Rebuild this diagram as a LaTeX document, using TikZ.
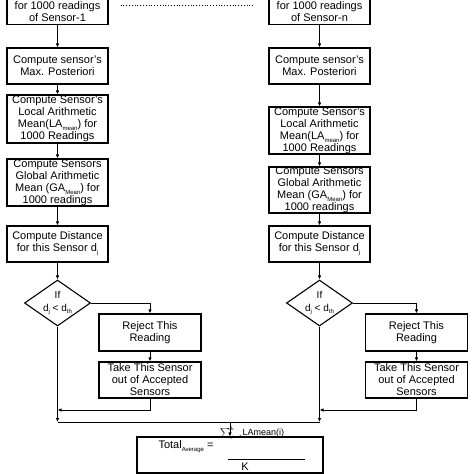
\documentclass[tikz,border=0pt]{standalone}
\usepackage{fontspec}
\setmainfont{Liberation Sans}
\usetikzlibrary{shapes.geometric,arrows.meta}
\newcommand{\lowsub}[1]{\raisebox{-0.5ex}{\fontsize{6}{6}\selectfont #1}}

\begin{document}
\begin{tikzpicture}
	[
	x=1pt, y=-1pt,
	align=center,
	font=\fontsize{11}{12}\selectfont,
	box/.style={draw, line width=1.1pt, inner sep=0pt, minimum width=101pt},
	test/.style={draw, shape=diamond, line width=1.1pt, inner sep=-3pt, minimum width=66pt, minimum height=46pt, font=\fontsize{10}{13}\selectfont},
	arr/.style={line width=0.8pt, -{Latex[length=4pt,width=3.5pt]}},
	link/.style={line width=0.8pt},
	]
	\useasboundingbox (0,0) rectangle (474,474);

		% left-hand column
		\node[box, minimum height=38pt] (s1l) at 	( 57.5,   5.5 ) {\strut\\for 1000 readings\\of Sensor-1};
		\node[box, minimum height=36pt] (s2l) at 	( 57.5,  66.0 ) {Compute sensor's\\Max. Posteriori};
		\node[box, minimum height=48pt] (s3l) at 	( 57.5, 119.0 ) {Compute Sensor's\\Local Arithmetic\\Mean(LA\lowsub{mean}) for\\1000 Readings};
		\node[box, minimum height=47pt] (s4l) at 	( 57.5, 182.5 ) {Compute Sensors\\Global Arithmetic\\Mean (GA\lowsub{Mean}) for\\1000 readings};
		\node[box, minimum height=36pt] (s5l) at 	( 57.5, 244.0 ) {Compute Distance\\for this Sensor d\lowsub{j}};
		\node[test] (dl) at 						( 57.5, 303.0 ) {If\\d\lowsub{j} < d\lowsub{th}};
		\node[box, minimum width=102pt, minimum height=37pt] (rjl) at ( 150.0, 332.5 ) {Reject This\\Reading};
		\node[box, minimum width=102pt, minimum height=36pt] (tkl) at ( 150.0, 380.0 ) {Take This Sensor\\out of Accepted\\Sensors};
		\coordinate (jl) at 						( 57.5, 410.0 );
		\coordinate (ml) at 						( 57.5, 422.0 );

		% right-hand column
		\node[box, minimum height=38pt] (s1r) at 	( 319.5,   5.5 ) {\strut\\for 1000 readings\\of Sensor-n};
		\node[box, minimum height=36pt] (s2r) at 	( 319.5,  66.0 ) {Compute sensor's\\Max. Posteriori};
		\node[box, minimum height=47pt] (s3r) at 	( 319.5, 130.5 ) {Compute Sensor's\\Local Arithmetic\\Mean(LA\lowsub{mean}) for\\1000 Readings};
		\node[box, minimum height=46pt] (s4r) at 	( 319.5, 190.0 ) {Compute Sensors\\Global Arithmetic\\Mean (GA\lowsub{Mean}) for\\1000 readings};
		\node[box, minimum height=36pt] (s5r) at 	( 319.5, 244.0 ) {Compute Distance\\for this Sensor d\lowsub{j}};
		\node[test] (dr) at 						( 319.5, 303.0 ) {If\\d\lowsub{j} < d\lowsub{th}};
		\node[box, minimum width=102pt, minimum height=37pt] (rjr) at ( 416.5, 332.5 ) {Reject This\\Reading};
		\node[box, minimum width=102pt, minimum height=36pt] (tkr) at ( 416.5, 380.0 ) {Take This Sensor\\out of Accepted\\Sensors};
		\coordinate (jr) at 						( 319.5, 410.0 );
		\coordinate (mr) at 						( 319.5, 422.0 );

		% total average
		\coordinate (mt) at 						( 230.0, 422.0 );
		\node[box, minimum width=186pt, minimum height=36pt] (tot) at ( 230.0, 455.0 ) {};
		\node (tav) at 								( 186.0, 446.5 ) {Total\lowsub{Average} =};
		\node (num) at 								( 252.0, 433.5 ) {\fontsize{9}{10}\selectfont$\sum^{\scriptscriptstyle k}_{\scriptscriptstyle j=1}$LAmean(i)};
		\node (kk) at 								( 245.0, 467.0 ) {K};
		\draw[link] (228,459) -- (305,459);

		\draw[dotted, line width=0.8pt] ([xshift=12pt]s1l.east) -- ([xshift=-15pt]s1r.west);

		\foreach \c in {l,r} {
			\foreach \from/\to in {s1/s2,s2/s3,s3/s4,s4/s5,s5/d,rj/tk} \draw[arr] (\from\c) -- (\to\c);
			\draw[arr] (d\c.east) -| (rj\c.north);
			\draw[arr] (tk\c.south) |- (j\c);
			\draw[arr] (d\c.south) -- (m\c);
		}
		\draw[link] (ml) -- (mr);
		\draw[arr] (mt) -- (tot.north);

	\end{tikzpicture}
\end{document}
